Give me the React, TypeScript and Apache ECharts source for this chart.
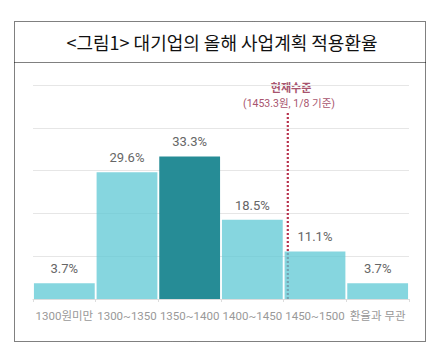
import React, { useEffect, useRef } from "react";
import * as echarts from "echarts";

const categories = ["1300원미만", "1300~1350", "1350~1400", "1400~1450", "1450~1500", "환율과 무관"];
const values = [3.7, 29.6, 33.3, 18.5, 11.1, 3.7];
const highlightIndex = 2;
const currentRatePos = 4 + 3.3 / 50; // 1453.3 within 1450~1500 band
const currentLineTop = 43.6;
const titleText = "<그림1> 대기업의 올해 사업계획 적용환율";
const noteTitle = "현재수준";
const noteSub = "(1453.3원, 1/8 기준)";

const FONT = "Roboto, 'Noto Sans CJK KR', sans-serif";

export default function App() {
  const ref = useRef<HTMLDivElement>(null);
  useEffect(() => {
    if (!ref.current) return;
    const chart = echarts.init(ref.current, null, { renderer: "svg" });
    chart.setOption({
      animation: false,
      backgroundColor: "#fff",
      grid: { left: 33, right: 38, top: 85, bottom: 60 },
      xAxis: [
        {
          type: "category",
          data: categories,
          axisLine: { lineStyle: { color: "#dddddd" } },
          axisTick: { show: true, length: 3, lineStyle: { color: "#dddddd" } },
          axisLabel: { color: "#999999", fontSize: 11.5, fontFamily: FONT, margin: 11, interval: 0 },
        },
        { type: "value", min: 0, max: 6, show: false },
      ],
      yAxis: {
        type: "value",
        min: 0,
        max: 50,
        interval: 10,
        axisLabel: { show: false },
        axisLine: { show: false },
        axisTick: { show: false },
        splitLine: { lineStyle: { color: "#e6e6e6" } },
      },
      series: [
        {
          type: "line",
          xAxisIndex: 1,
          z: 1,
          symbol: "none",
          data: [
            [currentRatePos, 0],
            [currentRatePos, currentLineTop],
          ],
          lineStyle: { color: "#B8334E", width: 2.2, type: [2, 2] },
        },
        {
          type: "bar",
          z: 2,
          barCategoryGap: "3%",
          data: values.map((v, i) => ({
            value: v,
            itemStyle: {
              color: i === highlightIndex ? "#268C96" : "rgba(94,200,212,0.75)",
            },
          })),
          label: {
            show: true,
            position: "top",
            distance: 8,
            color: "#666666",
            fontSize: 13,
            fontFamily: FONT,
            formatter: (p: any) => p.value.toFixed(1) + "%",
          },
        },
      ],
      graphic: [
        {
          type: "rect",
          shape: { x: 14.5, y: 21.5, width: 411, height: 320 },
          style: { fill: "none", stroke: "#000", lineWidth: 1, lineDash: [1, 1] },
          silent: true,
        },
        {
          type: "line",
          shape: { x1: 14.5, y1: 62.5, x2: 425.5, y2: 62.5 },
          style: { stroke: "#000", lineWidth: 1, lineDash: [1, 1] },
          silent: true,
        },
        {
          type: "text",
          x: 222,
          y: 42,
          style: {
            text: titleText,
            fill: "#111",
            font: "18px 'Noto Sans CJK KR', sans-serif",
            textAlign: "center",
            textVerticalAlign: "middle",
          },
        },
        {
          type: "text",
          x: 291,
          y: 87,
          style: {
            text: noteTitle,
            fill: "#A8546E",
            font: "bold 11px 'Noto Sans CJK KR', sans-serif",
            textAlign: "center",
            textVerticalAlign: "middle",
          },
        },
        {
          type: "text",
          x: 289,
          y: 103,
          style: {
            text: noteSub,
            fill: "#A8546E",
            font: "10.5px Roboto, 'Noto Sans CJK KR', sans-serif",
            textAlign: "center",
            textVerticalAlign: "middle",
          },
        },
      ],
    });
    return () => chart.dispose();
  }, []);
  return <div ref={ref} style={{ width: 447, height: 359, margin: -8 }} />;
}
